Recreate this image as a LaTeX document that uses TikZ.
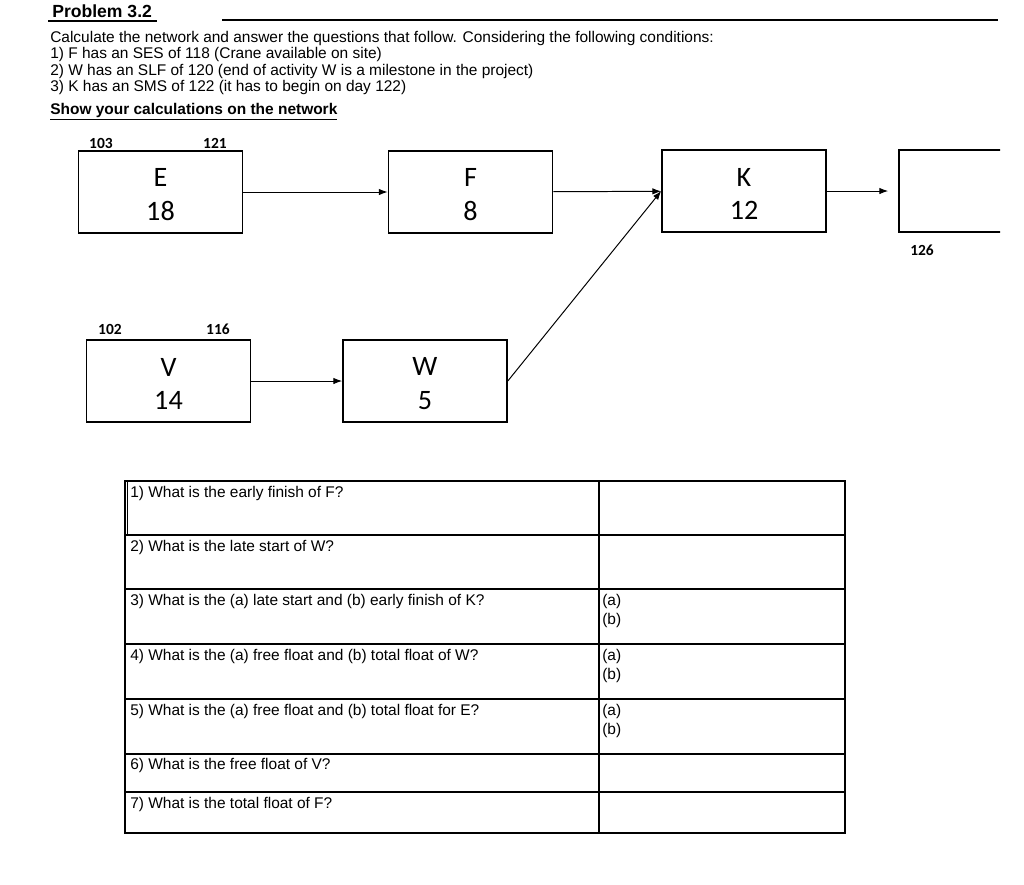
\documentclass[tikz,border=0pt]{standalone}
\usepackage{fontspec}
\setmainfont{Liberation Sans}
\newfontfamily\boxfont{Carlito}
\usetikzlibrary{positioning}
\usetikzlibrary{arrows.meta}

\tikzset{
  act/.style={draw, line width=1.1pt, minimum width=4.1cm, minimum height=2.05cm,
    align=center, font=\boxfont\fontsize{20}{24}\selectfont},
  tim/.style={font=\boxfont\bfseries\fontsize{11}{13}\selectfont, inner sep=0pt},
  link/.style={line width=0.7pt, -{Latex[length=2.2mm,width=1.6mm]}},
  txt/.style={anchor=base west, inner sep=0pt, font=\fontsize{11}{13}\selectfont},
}

\begin{document}
\begin{tikzpicture}[x=0.025cm, y=-0.025cm]
    \useasboundingbox (0,0) rectangle (1024,884);

    % heading
    \node [txt, font=\bfseries\fontsize{12.5}{14}\selectfont] (title) at (52,17) {Problem 3.2};
    \draw [line width=0.9pt] (48,21) -- (157,21);
    \draw [line width=0.9pt] (222,20) -- (998,20);
    \node [txt] (intro) at (50,42) {Calculate the network and answer the questions that follow. Considering the following conditions:};
    \node [txt] (c1) at (50,58.5) {1) F has an SES of 118 (Crane available on site)};
    \node [txt] (c2) at (50,75) {2) W has an SLF of 120 (end of activity W is a milestone in the project)};
    \node [txt] (c3) at (50,91) {3) K has an SMS of 122 (it has to begin on day 122)};
    \node [txt, font=\bfseries\fontsize{11}{13}\selectfont] (show) at (50,114) {\underline{Show your calculations on the network}};

    % network
    \node [act] (E) at (160.5,192) {\rule{0pt}{17pt}E\\18};
    \node [act] (F) at (470.5,192) {\rule{0pt}{17pt}F\\8};
    \node [act] (K) at (744,191) {\rule{0pt}{17pt}K\\12};
    \node [act] (V) at (168.5,381) {\rule{0pt}{17pt}V\\14};
    \node [act] (W) at (425,381) {\rule{0pt}{17pt}W\\5};
    \begin{scope}
      \clip (0,0) rectangle (1000,884);
      \node [act] (end) at (981,191) {};
    \end{scope}

    \node [tim] (esE) at (101,143) {103};
    \node [tim] (lfE) at (215,143) {121};
    \node [tim] (esV) at (110,329) {102};
    \node [tim] (lfV) at (218,329) {116};
    \node [tim] (lfEnd) at (922,250) {126};

    \draw [link] (E) -- (F);
    \draw [link] (F) -- (K);
    \draw [link, shorten >=0.25cm] (K) -- (end);
    \draw [link] (V) -- (W);
    \draw [link] (W.east) -- (K.west);

    % questions
    \draw [line width=0.9pt] (125,481) rectangle (845,833);
    \draw [line width=0.9pt] (599,481) -- (599,833);
    \draw [line width=0.9pt] (127.5,481) -- (127.5,535);
    \foreach \y in {535,589,644,699,754,792}
      \draw [line width=0.9pt] (125,\y) -- (845,\y);

    \node [txt] (q1) at (130,497) {1) What is the early finish of F?};
    \node [txt] (q2) at (130,551) {2) What is the late start of W?};
    \node [txt] (q3) at (130,605) {3) What is the (a) late start and (b) early finish of K?};
    \node [txt] (q4) at (130,660) {4) What is the (a) free float and (b) total float of W?};
    \node [txt] (q5) at (130,715) {5) What is the (a) free float and (b) total float for E?};
    \node [txt] (q6) at (130,769) {6) What is the free float of V?};
    \node [txt] (q7) at (130,808) {7) What is the total float of F?};

    \foreach \y in {605,660,715} {
      \node [txt] at (602,\y) {(a)};
      \node [txt] at (602,\y+19) {(b)};
    }
\end{tikzpicture}
\end{document}
